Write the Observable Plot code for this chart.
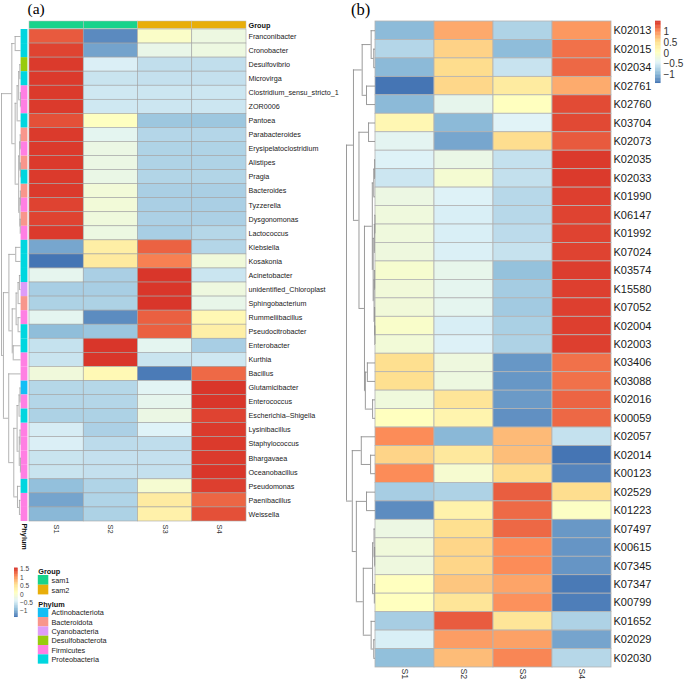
<!DOCTYPE html>
<html><head><meta charset="utf-8">
<script src="https://cdn.jsdelivr.net/npm/d3@7"></script>
<script src="https://cdn.jsdelivr.net/npm/@observablehq/plot@0.6"></script>
<style>
body{margin:0;background:#fff;}
#wrap{position:relative;width:685px;height:679px;overflow:hidden;background:#fff;}
#pa{position:absolute;left:0;top:0;width:340px;height:679px;}
#pb{position:absolute;left:340px;top:0;width:345px;height:679px;}
</style></head><body><div id="wrap"><div id="pa"></div><div id="pb"></div></div>
<script>
// ---------------- DATA ----------------
const samples = ["S1","S2","S3","S4"];
const sampleGroup = ["sam1","sam1","sam2","sam2"];
const groupNames = ["sam1","sam2"];
const groupColors = ["#18D38B","#E8AE0A"];
const phyla = ["Actinobacteriota","Bacteroidota","Cyanobacteria","Desulfobacterota","Firmicutes","Proteobacteria"];
const phylumColors = ["#14BEF5","#F8968C","#DE9CF8","#98CB0E","#FF7FE3","#00D6DF"];

const genera = ["Franconibacter","Cronobacter","Desulfovibrio","Microvirga","Clostridium_sensu_stricto_1","ZOR0006","Pantoea","Parabacteroides","Erysipelatoclostridium","Alistipes","Pragia","Bacteroides","Tyzzerella","Dysgonomonas","Lactococcus","Klebsiella","Kosakonia","Acinetobacter","unidentified_Chloroplast","Sphingobacterium","Rummeliibacillus","Pseudocitrobacter","Enterobacter","Kurthia","Bacillus","Glutamicibacter","Enterococcus","Escherichia\u2013Shigella","Lysinibacillus","Staphylococcus","Bhargavaea","Oceanobacillus","Pseudomonas","Paenibacillus","Weissella"];
const genusPhylum = ["Proteobacteria","Proteobacteria","Desulfobacterota","Proteobacteria","Firmicutes","Firmicutes","Proteobacteria","Bacteroidota","Firmicutes","Bacteroidota","Proteobacteria","Bacteroidota","Firmicutes","Bacteroidota","Firmicutes","Proteobacteria","Proteobacteria","Proteobacteria","Cyanobacteria","Bacteroidota","Firmicutes","Proteobacteria","Proteobacteria","Firmicutes","Firmicutes","Actinobacteriota","Firmicutes","Proteobacteria","Firmicutes","Firmicutes","Firmicutes","Firmicutes","Proteobacteria","Firmicutes","Firmicutes"];
const aS1 = [1.33,1.45,1.5,1.5,1.5,1.5,1.38,1.5,1.5,1.5,1.5,1.5,1.45,1.45,1.5,-1.05,-1.37,-0.31,-0.74,-0.71,-0.33,-0.89,-0.56,-0.54,-0.15,-0.66,-0.67,-0.71,-0.46,-0.43,-0.54,-0.54,-0.87,-1.06,-0.93];
const aS2 = [-1.23,-1.07,-0.43,-0.54,-0.5,-0.5,0.07,-0.33,-0.23,-0.23,-0.24,-0.12,-0.12,-0.16,-0.21,0.36,0.42,-0.73,-0.74,-0.71,-1.22,-0.82,1.52,1.52,0.19,-0.66,-0.67,-0.71,-0.72,-0.62,-0.57,-0.57,-0.69,-0.69,-0.71];
const aS3 = [0.01,-0.26,-0.59,-0.57,-0.52,-0.52,-0.81,-0.67,-0.7,-0.7,-0.68,-0.73,-0.73,-0.72,-0.74,1.29,1.13,1.52,1.52,1.52,1.3,1.3,-0.33,-0.54,-1.33,-0.36,-0.3,-0.23,-0.4,-0.6,-0.57,-0.57,-0.06,0.4,0.31];
const aS4 = [-0.2,-0.2,-0.59,-0.57,-0.52,-0.52,-0.81,-0.67,-0.7,-0.7,-0.68,-0.73,-0.73,-0.72,-0.66,-0.67,-0.14,-0.53,-0.18,-0.27,0.2,0.34,-0.74,-0.51,1.25,1.52,1.52,1.45,1.5,1.5,1.5,1.52,1.47,1.27,1.38];
const legendTicksA = [1.5,1,0.5,0,-0.5,-1];
const legendRangeA = [-1.37,1.55];

const kos = ["K02013","K02015","K02034","K02761","K02760","K03704","K02073","K02035","K02033","K01990","K06147","K01992","K07024","K03574","K15580","K07052","K02004","K02003","K03406","K03088","K02016","K00059","K02057","K02014","K00123","K02529","K01223","K07497","K00615","K07345","K07347","K00799","K01652","K02029","K02030"];
const bS1 = [-0.95,-0.71,-0.96,-1.41,-0.96,0.17,-0.38,-0.45,-0.56,-0.26,-0.21,-0.21,-0.22,-0.09,-0.18,-0.18,-0.05,-0.16,0.53,0.53,-0.2,0.05,1.02,0.6,1.02,-0.79,-1.26,-0.26,-0.19,-0.22,0.05,0.05,-0.79,-0.48,-0.92];
const bS2 = [0.85,0.61,0.55,0.58,-0.34,-0.96,-1.09,-0.29,-0.12,-0.45,-0.48,-0.48,-0.47,-0.33,-0.36,-0.36,-0.49,-0.46,-0.22,-0.24,0.45,0.22,-0.97,0.4,-0.1,-0.75,0.25,0.53,0.59,0.59,0.68,0.45,1.27,0.92,0.74];
const bS3 = [-0.74,-0.94,-0.59,0.36,0.05,-0.43,0.54,-0.61,-0.62,-0.69,-0.69,-0.66,-0.6,-0.9,-0.8,-0.82,-0.77,-0.75,-1.19,-1.19,-1.17,-1.23,0.75,0.73,0.55,1.26,1.2,1.21,1.02,1.02,0.88,0.99,0.45,0.9,1.05];
const bS4 = [0.95,1.16,1.21,0.84,1.36,1.37,1.28,1.45,1.45,1.42,1.4,1.4,1.4,1.43,1.42,1.42,1.42,1.42,1.16,1.16,1.23,1.21,-0.61,-1.41,-1.31,0.54,0.0,-1.18,-1.2,-1.2,-1.38,-1.35,-0.75,-1.1,-0.7];
const legendTicksB = [1,0.5,0,-0.5,-1];
const legendRangeB = [-1.41,1.5];

// dendrograms: [mergeHeight, left, right]; leaves = row index
const dendA = [1.0,
  [0.47, [0.3,0,1],
    [0.3, [0.2,[0.12,[0.06,2,3],[0.03,4,5]],6],
          [0.12,[0.07,[0.04,7,8],[0.03,9,10]],[0.06,[0.03,11,12],[0.04,13,14]]]]],
  [0.9,
    [0.62,[0.27,15,16],[0.45,[0.25,[0.15,[0.08,17,18],19],[0.15,20,21]],[0.4,22,23]]],
    [0.63,24,[0.37,[0.2,[0.1,[0.05,25,26],27],[0.09,[0.05,28,29],[0.03,30,31]]],[0.18,32,[0.08,33,34]]]]]];
const dendB = [1.0,
  [0.76,
    [0.46,[0.15,0,[0.06,1,2]],[0.31,3,4]],
    [0.57,[0.24,5,6],
      [0.38,
        [0.11,[0.06,[0.03,7,8],9],[0.08,[0.04,[0.02,10,11],12],[0.05,[0.03,13,14],[0.03,15,[0.02,16,17]]]]],
        [0.35,[0.28,18,19],[0.1,20,21]]]]],
  [0.8,
    [0.49,22,[0.17,23,24]],
    [0.66,[0.31,25,26],
      [0.42,[0.1,[0.05,27,[0.03,28,29]],[0.04,30,31]],[0.15,32,[0.06,33,34]]]]]];

// ---------------- HELPERS ----------------
const pal = ["#4575B4","#91BFDB","#E0F3F8","#FFFFBF","#FEE090","#FC8D59","#D73027"];
const ramp = d3.piecewise(d3.interpolateRgb, pal);
const FONT = "'Liberation Sans', Arial, Helvetica, sans-serif";
const SERIF = "'Liberation Serif', 'Times New Roman', serif";
const fmt = v => (v < 0 ? "\u2212" : "") + Math.abs(v);

function dendro(tree, leafX, unitW) {
  const nodes = [], links = [];
  (function walk(t) {
    if (typeof t === "number") return {x: leafX, y: t + 0.5};
    const [h, a, b] = t;
    const A = walk(a), B = walk(b);
    const x = leafX - h * unitW;
    nodes.push({x, y1: A.y, y2: B.y});
    links.push({y: A.y, x1: x, x2: A.x}, {y: B.y, x1: x, x2: B.x});
    return {x, y: (A.y + B.y) / 2};
  })(tree);
  return {nodes, links};
}
function cells(names, cols) {
  return names.flatMap((n, i) => cols.map((col, j) => ({i, j, v: col[i]})));
}
function colorbar(range, n) {
  const [lo, hi] = range, step = (hi - lo) / n;
  return d3.range(n).map(k => ({v0: lo + k * step, v1: lo + (k + 1) * step}));
}

// ---------------- PANEL A ----------------
{
  const L = {w: 340, h: 679, x0: 29, cw: 54.25, y0: 29, rh: 14.057};
  const X = px => (px - L.x0) / L.cw, Y = px => (px - L.y0) / L.rh;
  const d = dendro(dendA, X(20.5), 19.5 / L.cw);
  const barY = v => Y(594 - v * 16.8);
  const bar = colorbar(legendRangeA, 80);
  const idx = genera.map((g, i) => i);
  const svg = Plot.plot({
    width: L.w, height: L.h, margin: 0,
    style: {fontFamily: FONT, background: "white"},
    x: {domain: [X(0), X(L.w)], range: [0, L.w], axis: null},
    y: {domain: [Y(0), Y(L.h)], range: [0, L.h], axis: null},
    color: {type: "linear", domain: legendRangeA, interpolate: ramp},
    marks: [
      Plot.rect(cells(genera, [aS1, aS2, aS3, aS4]), {x1: "j", x2: c => c.j + 1, y1: "i", y2: c => c.i + 1, fill: "v", stroke: "#a3a3a3", strokeWidth: 0.6}),
      ...groupNames.map((g, k) => Plot.rect(samples.filter((s, j) => sampleGroup[j] === g),
        {x1: s => samples.indexOf(s), x2: s => samples.indexOf(s) + 1, y1: Y(21), y2: Y(28.4), fill: groupColors[k], stroke: "#bdbdbd", strokeWidth: 0.5})),
      ...phyla.map((p, k) => Plot.rect(idx.filter(i => genusPhylum[i] === p),
        {x1: X(20.6), x2: X(27.4), y1: i => i, y2: i => i + 1, fill: phylumColors[k]})),
      Plot.ruleX(d.nodes, {x: "x", y1: "y1", y2: "y2", stroke: "#a0a0a0", strokeWidth: 0.8}),
      Plot.ruleY(d.links, {y: "y", x1: "x1", x2: "x2", stroke: "#a0a0a0", strokeWidth: 0.8}),
      Plot.text(genera, {x: X(248), y: (g, i) => i + 0.5, text: g => g, textAnchor: "start", fontSize: 7.2, fill: "#1a1a1a", fontFamily: FONT}),
      Plot.text(["Group"], {x: X(248), y: Y(24.8), text: t => t, textAnchor: "start", fontSize: 7.3, fontWeight: "bold", fill: "#111", fontFamily: FONT}),
      Plot.text(samples, {x: (s, j) => j + 0.5, y: Y(524), text: s => s, rotate: 90, textAnchor: "start", fontSize: 7.5, fill: "#333", fontFamily: FONT}),
      Plot.text(["Phylum"], {x: X(23.9), y: Y(523), text: t => t, rotate: 90, textAnchor: "start", fontSize: 7.3, fontWeight: "bold", fill: "#111", fontFamily: FONT}),
      Plot.text(["(a)"], {x: X(27), y: Y(9), text: t => t, textAnchor: "start", fontSize: 15.5, fill: "#000", fontFamily: SERIF}),
      // legend: color bar
      Plot.rect(bar, {x1: X(14), x2: X(17.6), y1: b => barY(b.v1) - 0.03, y2: b => barY(b.v0), fill: b => (b.v0 + b.v1) / 2}),
      Plot.text(legendTicksA, {x: X(19.5), y: v => barY(v), text: fmt, textAnchor: "start", fontSize: 6.6, fill: "#444", fontFamily: FONT}),
      // legend: Group
      Plot.text(["Group"], {x: X(37.8), y: Y(571), text: t => t, textAnchor: "start", fontSize: 7.3, fontWeight: "bold", fill: "#111", fontFamily: FONT}),
      ...groupNames.map((g, k) => Plot.rect([g], {x1: X(37.8), x2: X(48.3), y1: Y(575 + k * 9.7), y2: Y(584.7 + k * 9.7), fill: groupColors[k]})),
      Plot.text(groupNames, {x: X(51), y: (g, k) => Y(580 + k * 9.7), text: g => g, textAnchor: "start", fontSize: 7.3, fill: "#222", fontFamily: FONT}),
      // legend: Phylum
      Plot.text(["Phylum"], {x: X(37.8), y: Y(604), text: t => t, textAnchor: "start", fontSize: 7.3, fontWeight: "bold", fill: "#111", fontFamily: FONT}),
      ...phyla.map((p, k) => Plot.rect([p], {x1: X(37.8), x2: X(48.3), y1: Y(607.7 + k * 9.33), y2: Y(617 + k * 9.33), fill: phylumColors[k]})),
      Plot.text(phyla, {x: X(51), y: (p, k) => Y(612.4 + k * 9.33), text: p => p, textAnchor: "start", fontSize: 7.3, fill: "#222", fontFamily: FONT})
    ]
  });
  document.getElementById("pa").appendChild(svg);
}

// ---------------- PANEL B ----------------
{
  const L = {w: 345, h: 679, x0: 35, cw: 59, y0: 21, rh: 18.457};
  const X = px => (px - L.x0) / L.cw, Y = px => (px - L.y0) / L.rh;
  const d = dendro(dendB, X(35), 29 / L.cw);
  const barY = v => Y(53 - v * 21.3);
  const bar = colorbar(legendRangeB, 80);
  const svg = Plot.plot({
    width: L.w, height: L.h, margin: 0,
    style: {fontFamily: FONT, background: "white"},
    x: {domain: [X(0), X(L.w)], range: [0, L.w], axis: null},
    y: {domain: [Y(0), Y(L.h)], range: [0, L.h], axis: null},
    color: {type: "linear", domain: legendRangeB, interpolate: ramp},
    marks: [
      Plot.rect(cells(kos, [bS1, bS2, bS3, bS4]), {x1: "j", x2: c => c.j + 1, y1: "i", y2: c => c.i + 1, fill: "v", stroke: "#b3b3b3", strokeWidth: 0.8}),
      Plot.ruleX(d.nodes, {x: "x", y1: "y1", y2: "y2", stroke: "#8f8f8f", strokeWidth: 0.9}),
      Plot.ruleY(d.links, {y: "y", x1: "x1", x2: "x2", stroke: "#8f8f8f", strokeWidth: 0.9}),
      Plot.text(kos, {x: X(273), y: (k, i) => i + 0.5, text: k => k, textAnchor: "start", fontSize: 11, fill: "#1a1a1a", fontFamily: FONT}),
      Plot.text(samples, {x: (s, j) => j + 0.5, y: Y(668), text: s => s, rotate: 90, textAnchor: "start", fontSize: 8.8, fill: "#333", fontFamily: FONT}),
      Plot.text(["(b)"], {x: X(10.5), y: Y(9), text: t => t, textAnchor: "start", fontSize: 16.5, fill: "#000", fontFamily: SERIF}),
      Plot.rect(bar, {x1: X(315), x2: X(320.5), y1: b => barY(b.v1) - 0.02, y2: b => barY(b.v0), fill: b => (b.v0 + b.v1) / 2}),
      Plot.text(legendTicksB, {x: X(323), y: v => barY(v), text: fmt, textAnchor: "start", fontSize: 10, fill: "#333", fontFamily: FONT})
    ]
  });
  document.getElementById("pb").appendChild(svg);
}
</script></body></html>
